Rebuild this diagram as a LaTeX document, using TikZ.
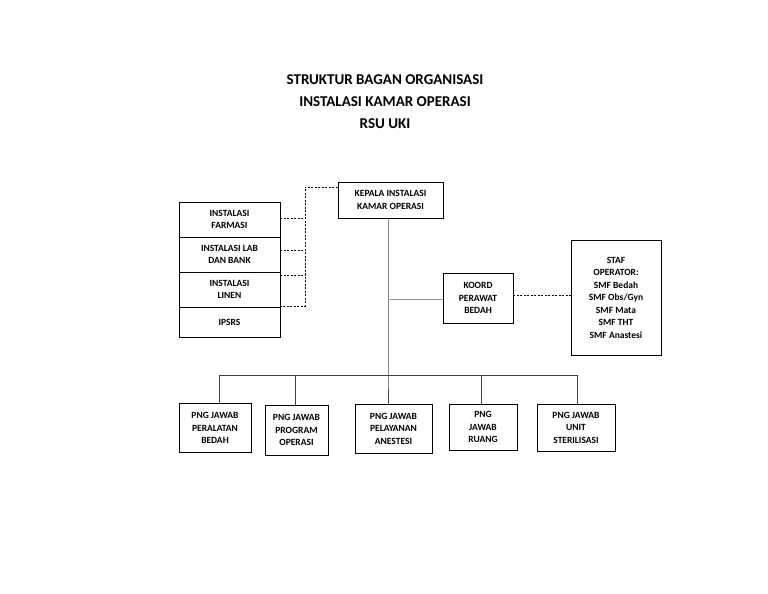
\documentclass[tikz,border=0pt]{standalone}
\usepackage{fontspec}
\setmainfont{Carlito}
\begin{document}
\begin{tikzpicture}[x=1pt,y=-1pt,
  bx/.style={draw,line width=0.9pt,align=center,font=\bfseries\fontsize{9.5}{12.5}\selectfont,inner sep=0pt},
  ln/.style={line width=0.9pt,draw=black!75},
  dl/.style={line width=0.8pt,dashed,dash pattern=on 2pt off 1.5pt}]
\useasboundingbox (0,0) rectangle (768,594);
\node[font=\bfseries\fontsize{15}{22}\selectfont,align=center] (title) at (385,102) {STRUKTUR BAGAN ORGANISASI\\INSTALASI KAMAR OPERASI\\RSU UKI};
\node[bx,minimum width=105,minimum height=36] (kep) at (390.5,200) {KEPALA INSTALASI\\KAMAR OPERASI};
\node[bx,minimum width=101,minimum height=35] (far) at (229.5,219.5) {INSTALASI\\FARMASI};
\node[bx,minimum width=101,minimum height=35] (lab) at (229.5,254.5) {INSTALASI LAB\\DAN BANK};
\node[bx,minimum width=101,minimum height=35] (lin) at (229.5,289.5) {INSTALASI\\LINEN};
\node[bx,minimum width=101,minimum height=30] (ips) at (229.5,322) {IPSRS};
\node[bx,minimum width=70,minimum height=50] (koo) at (478,298) {KOORD\\PERAWAT\\BEDAH};
\node[bx,minimum width=90,minimum height=115] (staf) at (616,297.5) {STAF\\OPERATOR:\\SMF Bedah\\SMF Obs/Gyn\\SMF Mata\\SMF THT\\SMF Anastesi};
\node[bx,minimum width=72,minimum height=49] (b1) at (215,428) {PNG JAWAB\\PERALATAN\\BEDAH};
\node[bx,minimum width=63,minimum height=50] (b2) at (296.5,430) {PNG JAWAB\\PROGRAM\\OPERASI};
\node[bx,minimum width=77,minimum height=49] (b3) at (393.5,428.5) {PNG JAWAB\\PELAYANAN\\ANESTESI};
\node[bx,minimum width=68,minimum height=46] (b4) at (483,427) {PNG\\JAWAB\\RUANG};
\node[bx,minimum width=78,minimum height=47] (b5) at (576,427.5) {PNG JAWAB\\UNIT\\STERILISASI};
% dashed links
\coordinate (dv1) at (305,187);
\coordinate (dv2) at (305,306);
\draw[dl] (kep.west |- dv1) -- (dv1) -- (dv2) -- (far.east |- dv2);
\draw[dl] (far.east |- 0,218) -- (305,218);
\draw[dl] (lab.east |- 0,250) -- (305,250);
\draw[dl] (lin.east |- 0,275) -- (305,275);
\draw[dl] (koo.east |- 0,295) -- (staf.west |- 0,295);
% solid
\coordinate (tv) at (388,375);
\draw[ln] (388,218) -- (tv) -- (b3.north -| tv);
\draw[ln,draw=black!40] (388,299) -- (koo.west |- 0,299);
\coordinate (hl) at (219,375);
\coordinate (hr) at (577,375);
\draw[ln] (hl) -- (hr);
\draw[ln] (hl) -- (b1.north -| hl);
\draw[ln] (295,375) -- (b2.north -| 295,0);
\draw[ln] (481,375) -- (b4.north -| 481,0);
\draw[ln] (hr) -- (b5.north -| hr);
\end{tikzpicture}
\end{document}
